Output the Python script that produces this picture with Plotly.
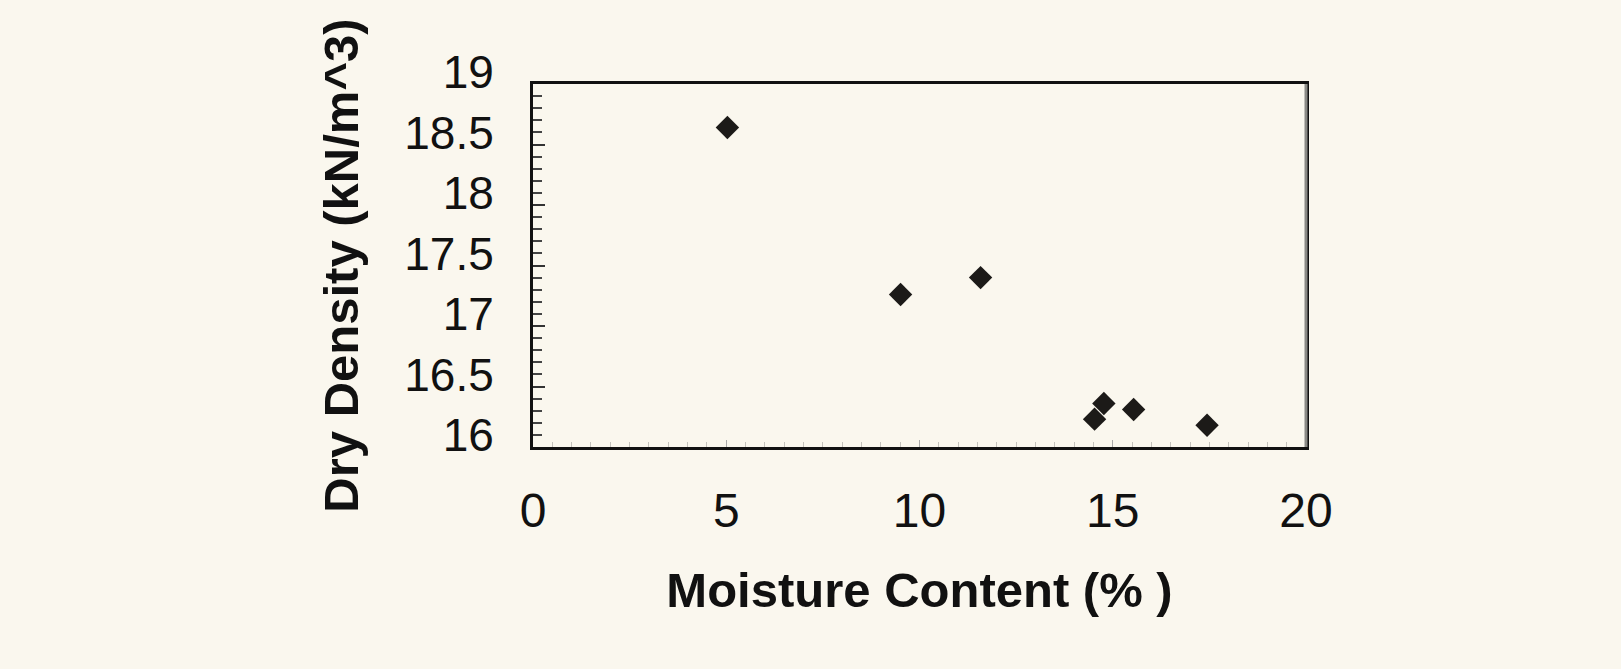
import plotly.graph_objects as go

# moisture content (%) vs dry density (kN/m^3)
moisture = [5.03, 9.51, 11.58, 14.53, 14.77, 15.54, 17.44]
dry_density = [18.64, 17.26, 17.40, 16.23, 16.36, 16.31, 16.18]

x_ticks = [0, 5, 10, 15, 20]
y_ticks = [16, 16.5, 17, 17.5, 18, 18.5, 19]
y_tick_text = ['16', '16.5', '17', '17.5', '18', '18.5', '19']

bg = '#FAF7EE'

fig = go.Figure()
fig.add_trace(go.Scatter(
    x=moisture,
    y=dry_density,
    mode='markers',
    marker=dict(symbol='diamond', size=18, color='#1c1a18', line=dict(width=0)),
    showlegend=False,
))

fig.update_layout(
    width=1621,
    height=669,
    margin=dict(l=533, r=315, t=84, b=222),
    paper_bgcolor=bg,
    plot_bgcolor=bg,
    font=dict(family='Liberation Sans, Arial, sans-serif', color='#111111'),
)

fig.update_xaxes(
    range=[0, 20],
    tickvals=x_ticks,
    ticks='inside',
    ticklen=7,
    tickwidth=1,
    tickcolor='#aaaaaa',
    minor=dict(dtick=0.5, ticks='inside', ticklen=5, tickwidth=1, tickcolor='#c4c2bc'),
    tickfont=dict(size=48),
    ticklabelstandoff=19,
    showgrid=False,
    zeroline=False,
    showline=True,
    linecolor='#111111',
    linewidth=3,
    mirror=True,
    title=dict(text='<b>Moisture Content (% )</b>', font=dict(size=49), standoff=38),
)

fig.update_yaxes(
    range=[16, 19],
    tickvals=y_ticks,
    ticktext=y_tick_text,
    ticks='inside',
    ticklen=12,
    tickwidth=2,
    tickcolor='#333333',
    minor=dict(dtick=0.1, ticks='inside', ticklen=9, tickwidth=2, tickcolor='#444444'),
    tickfont=dict(size=46),
    ticklabelshift=-12,
    ticklabelstandoff=27,
    showgrid=False,
    zeroline=False,
    showline=True,
    linecolor='#111111',
    linewidth=3,
    mirror=True,
    title=dict(text='<b>Dry Density (kN/m^3)</b>', font=dict(size=49), standoff=31),
)

# right edge of the frame is greyer in the original
fig.add_shape(type='line', xref='paper', yref='paper', x0=1, x1=1, y0=0, y1=1,
              line=dict(color='#8a8a86', width=3))

fig.write_html('out.html', config={'displayModeBar': False},
               post_script="document.body.style.margin='0';document.body.style.background='#FAF7EE';")
